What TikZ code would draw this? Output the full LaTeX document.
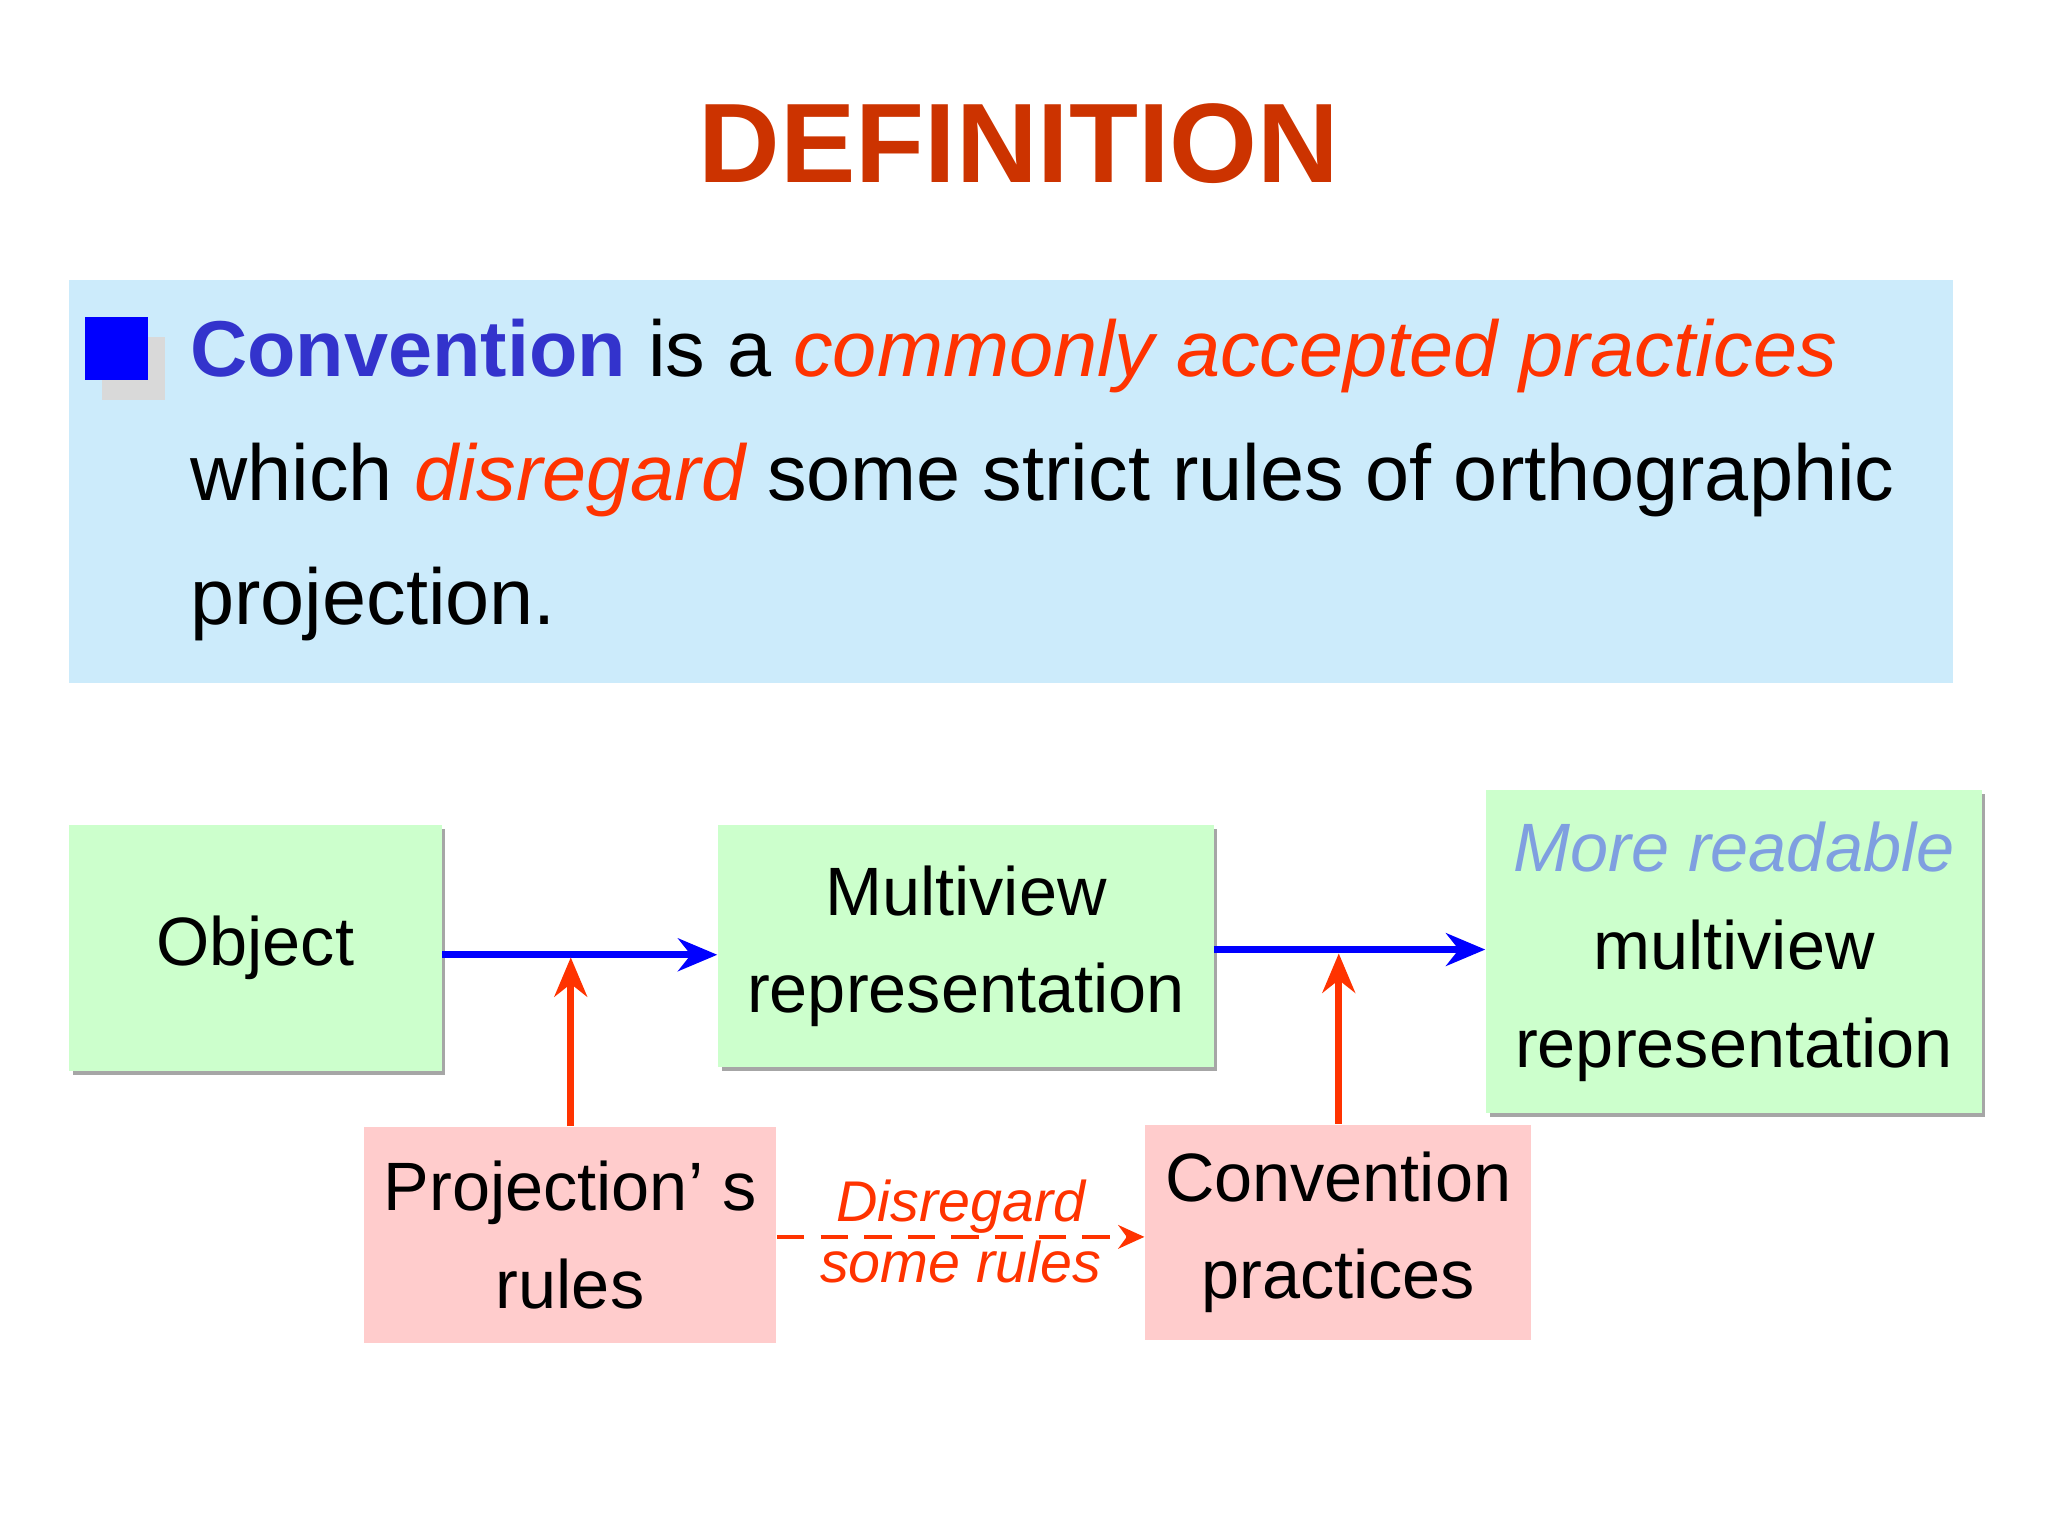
\documentclass[tikz,border=0pt]{standalone}
\usepackage{fontspec}
\setmainfont{Liberation Sans}
\usetikzlibrary{arrows.meta}
\definecolor{titlered}{HTML}{CC3300}
\definecolor{ired}{HTML}{FF3300}
\definecolor{cblue}{HTML}{3333CC}
\definecolor{lblue}{HTML}{CCEBFB}
\definecolor{lgreen}{HTML}{CCFFCC}
\definecolor{lpink}{HTML}{FFCCCC}
\definecolor{softblue}{HTML}{7F9FE0}
\begin{document}
\begin{tikzpicture}[x=0.01cm,y=-0.01cm,
  boxtxt/.style={font=\fontsize{14.9}{21.3}\selectfont,align=center,inner sep=0pt},
  para/.style={anchor=base west,inner sep=0pt,font=\fontsize{17.25}{21}\selectfont},
  shadowbox/.style={fill=black!35},
  blarrow/.style={-{Stealth[length=0.3cm,width=0.25cm]},line width=1.6pt,blue},
  rdarrow/.style={-{Stealth[length=0.3cm,width=0.25cm]},line width=1.6pt,ired}]
\useasboundingbox (0,0) rectangle (1568,1176);
\node[font=\fontsize{24.6}{28}\selectfont\bfseries,text=titlered] (title) at (780,110) {DEFINITION};
\fill[lblue] (53,214) rectangle (1495,523);
\fill[black!15] (78,258) rectangle (126,306);
\fill[blue] (65,243) rectangle (113,291);
\node[para] (l1) at (145,288) {\textcolor{cblue}{\bfseries Convention} is a \textcolor{ired}{\itshape commonly accepted practices}};
\node[para] (l2) at (145,383) {which \textcolor{ired}{\itshape disregard} some strict rules of orthographic};
\node[para] (l3) at (145,478) {projection.};
% shadows
\fill[shadowbox] (56,635) rectangle (341,823);
\fill[shadowbox] (553,635) rectangle (932,820);
\fill[shadowbox] (1141,608) rectangle (1520,855);
\node[fill=lgreen,minimum width=2.85cm,minimum height=1.88cm,boxtxt] (obj) at (195.5,726) {Object};
\node[fill=lgreen,minimum width=3.79cm,minimum height=1.85cm,boxtxt] (mv) at (739.5,724.5) {Multiview\\representation};
\node[fill=lgreen,minimum width=3.79cm,minimum height=2.47cm,boxtxt] (mr) at (1327.5,728.5) {\textcolor{softblue}{\itshape More readable}\\multiview\\representation};
\node[fill=lpink,minimum width=3.15cm,minimum height=1.65cm,boxtxt] (pr) at (436.5,945.5) {Projection’ s\\rules};
\node[fill=lpink,minimum width=2.95cm,minimum height=1.65cm,boxtxt] (cp) at (1024.5,943.5) {Convention\\practices};
\draw[blarrow] (obj.east |- 0,731) -- (mv.west |- 0,731);
\draw[blarrow] (mv.east |- 0,727) -- (mr.west |- 0,727);
\draw[rdarrow] (pr.north -| 437,0) -- (437,733);
\draw[rdarrow] (cp.north -| 1025,0) -- (1025,730);
\draw[ired,line width=1pt,dash pattern=on 6pt off 3.5pt,-{Stealth[length=0.2cm,width=0.18cm]}] (pr.east |- 0,947) -- (cp.west |- 0,947)
  node[midway,above=-3pt,font=\fontsize{12.5}{15}\selectfont\itshape,text=ired] {Disregard}
  node[midway,below=-3pt,font=\fontsize{12.5}{15}\selectfont\itshape,text=ired] {some rules};
\end{tikzpicture}
\end{document}
